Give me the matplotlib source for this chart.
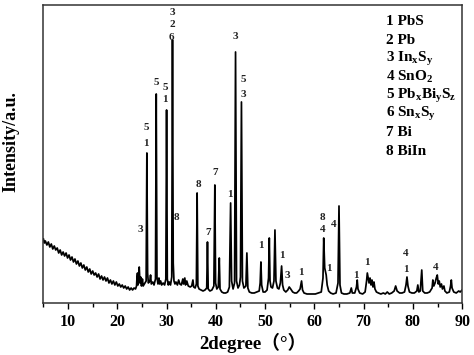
import matplotlib
matplotlib.use("Agg")
import matplotlib.pyplot as plt
from matplotlib.ticker import MultipleLocator

plt.rcParams['font.family'] = ['Liberation Serif', 'Noto Sans CJK SC']
plt.rcParams['font.weight'] = 'bold'
plt.rcParams['mathtext.fontset'] = 'custom'
plt.rcParams['mathtext.rm'] = 'Liberation Serif:bold'
plt.rcParams['mathtext.it'] = 'Liberation Serif:bold'
plt.rcParams['mathtext.bf'] = 'Liberation Serif:bold'
plt.rcParams['mathtext.default'] = 'rm'

# XRD pattern (2theta in degrees, intensity in arbitrary units)
two_theta = [
    # amorphous background at low angle
    5.0, 5.2, 5.4, 5.7, 6.0, 6.3, 6.6, 6.9, 7.2, 7.5, 7.8, 8.1, 8.4, 8.7, 9.0, 9.3,
    9.6, 9.9, 10.2, 10.5, 10.8, 11.1, 11.4, 11.7, 12.0, 12.3, 12.6, 12.9, 13.2, 13.5,
    13.8, 14.1, 14.4, 14.7, 15.0, 15.3, 15.6, 15.9, 16.2, 16.5, 16.8, 17.1, 17.4, 17.7,
    18.0, 18.3, 18.6, 18.9, 19.2, 19.5, 19.8, 20.1, 20.4, 20.7, 21.0, 21.3, 21.6, 21.9,
    22.2, 22.5, 22.8, 23.1, 23.4, 23.7,
    # 24 - 47
    23.9, 24.0, 24.1, 24.2, 24.3, 24.45, 24.6, 24.75, 24.9, 25.1, 25.25, 25.5, 25.85,
    26.0, 26.15, 26.3, 26.6, 26.75, 26.9, 27.2, 27.45, 27.75, 27.9, 28.05, 28.25, 28.45,
    28.6, 28.8, 29.0, 29.3, 29.6, 29.85, 30.0, 30.15, 30.35, 30.55, 30.8, 31.05, 31.2,
    31.35, 31.5, 31.7, 31.9, 32.2, 32.45, 32.7, 33.0, 33.3, 33.45, 33.7, 33.85, 34.1,
    34.4, 34.8, 35.1, 35.35, 35.5, 35.8, 36.05, 36.2, 36.35, 36.6, 37.0, 37.4, 37.8,
    38.15, 38.3, 38.45, 38.8, 39.2, 39.6, 39.8, 39.95, 40.2, 40.5, 40.7, 40.85, 41.2,
    41.6, 42.0, 42.4, 42.75, 43.0, 43.2, 43.5, 43.8, 44.0, 44.2, 44.5, 44.8, 45.0, 45.2,
    45.4, 45.7, 46.1, 46.3, 46.5, 46.8,
    # 47 - 66
    47.3, 47.8, 48.3, 48.8, 49.0, 49.15, 49.3, 49.6, 50.0, 50.4, 50.7, 50.85, 51.0, 51.2,
    51.5, 51.8, 52.0, 52.2, 52.5, 52.8, 53.1, 53.35, 53.55, 53.8, 54.2, 54.6, 54.9, 55.2,
    55.6, 56.0, 56.4, 56.8, 57.1, 57.4, 57.6, 57.9, 58.5, 59.0, 59.6, 60.2, 60.8, 61.4,
    61.75, 61.9, 62.1, 62.4, 62.6, 62.9, 63.3, 63.8, 64.4, 64.8, 65.0, 65.2, 65.5,
    # 66 - 90
    66.0, 66.6, 67.2, 67.5, 67.7, 68.2, 68.55, 68.7, 68.85, 69.2, 69.8, 70.3, 70.6, 70.75,
    70.95, 71.1, 71.3, 71.5, 71.7, 71.9, 72.1, 72.3, 72.6, 73.0, 73.5, 74.0, 74.4, 74.8,
    75.2, 75.7, 76.2, 76.5, 76.8, 77.3, 77.8, 78.3, 78.6, 78.8, 79.0, 79.3, 79.8, 80.3,
    80.8, 81.0, 81.2, 81.5, 81.8, 82.0, 82.4, 82.9, 83.4, 83.9, 84.05, 84.25, 84.5, 84.75,
    84.95, 85.15, 85.35, 85.55, 85.8, 86.0, 86.3, 86.5, 86.9, 87.4, 87.65, 87.8, 87.95,
    88.3, 88.8, 89.3, 89.6, 90.0,
]
intensity = [
    64, 60, 62, 58, 61, 56, 59, 54, 57, 53, 55, 50, 53, 48, 51, 47,
    50, 45, 48, 43, 46, 41, 44, 39, 42, 37, 40, 35, 38, 33,
    36, 31, 34, 29, 32, 28, 30, 26, 29, 24, 27, 23, 26, 22,
    25, 20, 23, 19, 22, 18, 21, 17, 19, 16, 18, 15, 17, 14,
    16, 13, 15, 13, 15, 14,
    17, 26, 30, 18, 22, 36, 20, 26, 17, 24, 17, 19, 22,
    150, 30, 20, 22, 28, 19, 21, 18, 24, 209, 26, 19, 25,
    19, 22, 18, 20, 18, 24, 193, 24, 18, 21, 18, 26, 263,
    40, 22, 19, 21, 18, 23, 19, 18, 24, 19, 25, 18, 22,
    17, 16, 17, 23, 16, 15, 19, 110, 17, 14, 13, 12, 13,
    15, 61, 14, 12, 13, 17, 118, 20, 14, 16, 45, 14, 11,
    10, 10, 11, 16, 100, 22, 14, 20, 251, 22, 15, 18, 26, 201,
    22, 15, 17, 50, 15, 11,
    10, 10, 11, 12, 20, 41, 18, 11, 11, 13, 25, 65, 22, 16,
    15, 22, 73, 22, 15, 14, 20, 37, 18, 13, 11, 13, 16, 14,
    11, 10, 10, 12, 14, 22, 13, 10, 9, 9, 9, 9, 10, 11,
    25, 65, 35, 28, 18, 12, 10, 9, 10, 20, 97, 18, 10,
    9, 9, 10, 15, 10, 10, 16, 23, 14, 10, 9, 11, 22, 30,
    24, 20, 25, 18, 23, 16, 21, 14, 11, 10, 9, 10, 9, 11,
    9, 10, 12, 17, 12, 10, 10, 11, 18, 26, 17, 11, 10, 10,
    12, 18, 11, 12, 33, 12, 10, 10, 11, 15, 23, 17, 20, 25,
    28, 19, 22, 16, 19, 14, 17, 12, 10, 11, 17, 23, 15,
    11, 10, 12, 11, 13,
]

# peak index labels: position (2theta, height) and text
label_x = [24.6, 25.8, 25.8, 27.9, 29.75, 29.75, 31.2, 31.2, 31.05, 32.05,
           36.45, 38.35, 39.85, 42.9, 43.9, 45.6, 45.6,
           49.1, 53.5, 54.5, 57.25, 61.7, 61.7, 63.95, 63.05, 68.5, 70.6,
           78.6, 78.6, 84.65]
label_y = [73, 175, 159, 220, 215, 203, 290, 278, 265, 85,
           118, 70, 130, 108, 266, 223, 208,
           57, 47, 27, 30, 85, 73, 78, 34, 27, 40,
           49, 33, 35]
label_txt = ['3', '5', '1', '5', '5', '1', '3', '2', '6', '8',
             '8', '7', '7', '1', '3', '5', '3',
             '1', '1', '3', '1', '8', '4', '4', '1', '1', '1',
             '4', '1', '4']

phases = ['1 PbS', '2 Pb', '3 In$_x$S$_y$', '4 SnO$_2$', '5 Pb$_x$Bi$_y$S$_z$',
          '6 Sn$_x$S$_y$', '7 Bi', '8 BiIn']

fig, ax = plt.subplots(figsize=(4.74, 3.55), dpi=100)
fig.subplots_adjust(left=0.0916, right=0.975, top=0.986, bottom=0.1465)

ax.plot(two_theta, intensity, color='black', linewidth=1.25)

for x, y, t in zip(label_x, label_y, label_txt):
    ax.text(x, y, t, fontsize=8, ha='center', va='center', color='#222222')

for i, p in enumerate(phases):
    ax.text(0.818, 0.943 - i * 0.062, p, transform=ax.transAxes,
            fontsize=11, ha='left', va='center')

ax.set_xlim(5, 90)
ax.set_ylim(0, 298)
ax.set_yticks([])
ax.xaxis.set_major_locator(MultipleLocator(10))
ax.xaxis.set_minor_locator(MultipleLocator(5))
ax.set_xticks(range(10, 91, 10))
ax.tick_params(axis='x', which='major', direction='out', length=4, width=1,
               labelsize=11.5, pad=4)
ax.tick_params(axis='x', which='minor', direction='out', length=3, width=1)
for lbl in ax.get_xticklabels():
    lbl.set_fontweight('bold')

for s in ax.spines.values():
    s.set_linewidth(1.1)
    s.set_color('#333333')

ax.set_xlabel('2degree（°）', fontsize=13.5, fontweight='bold', labelpad=2)
ax.set_ylabel('Intensity/a.u.', fontsize=13, fontweight='bold')
ax.yaxis.set_label_coords(-0.058, 0.54)

plt.savefig('out.png', dpi=100)
